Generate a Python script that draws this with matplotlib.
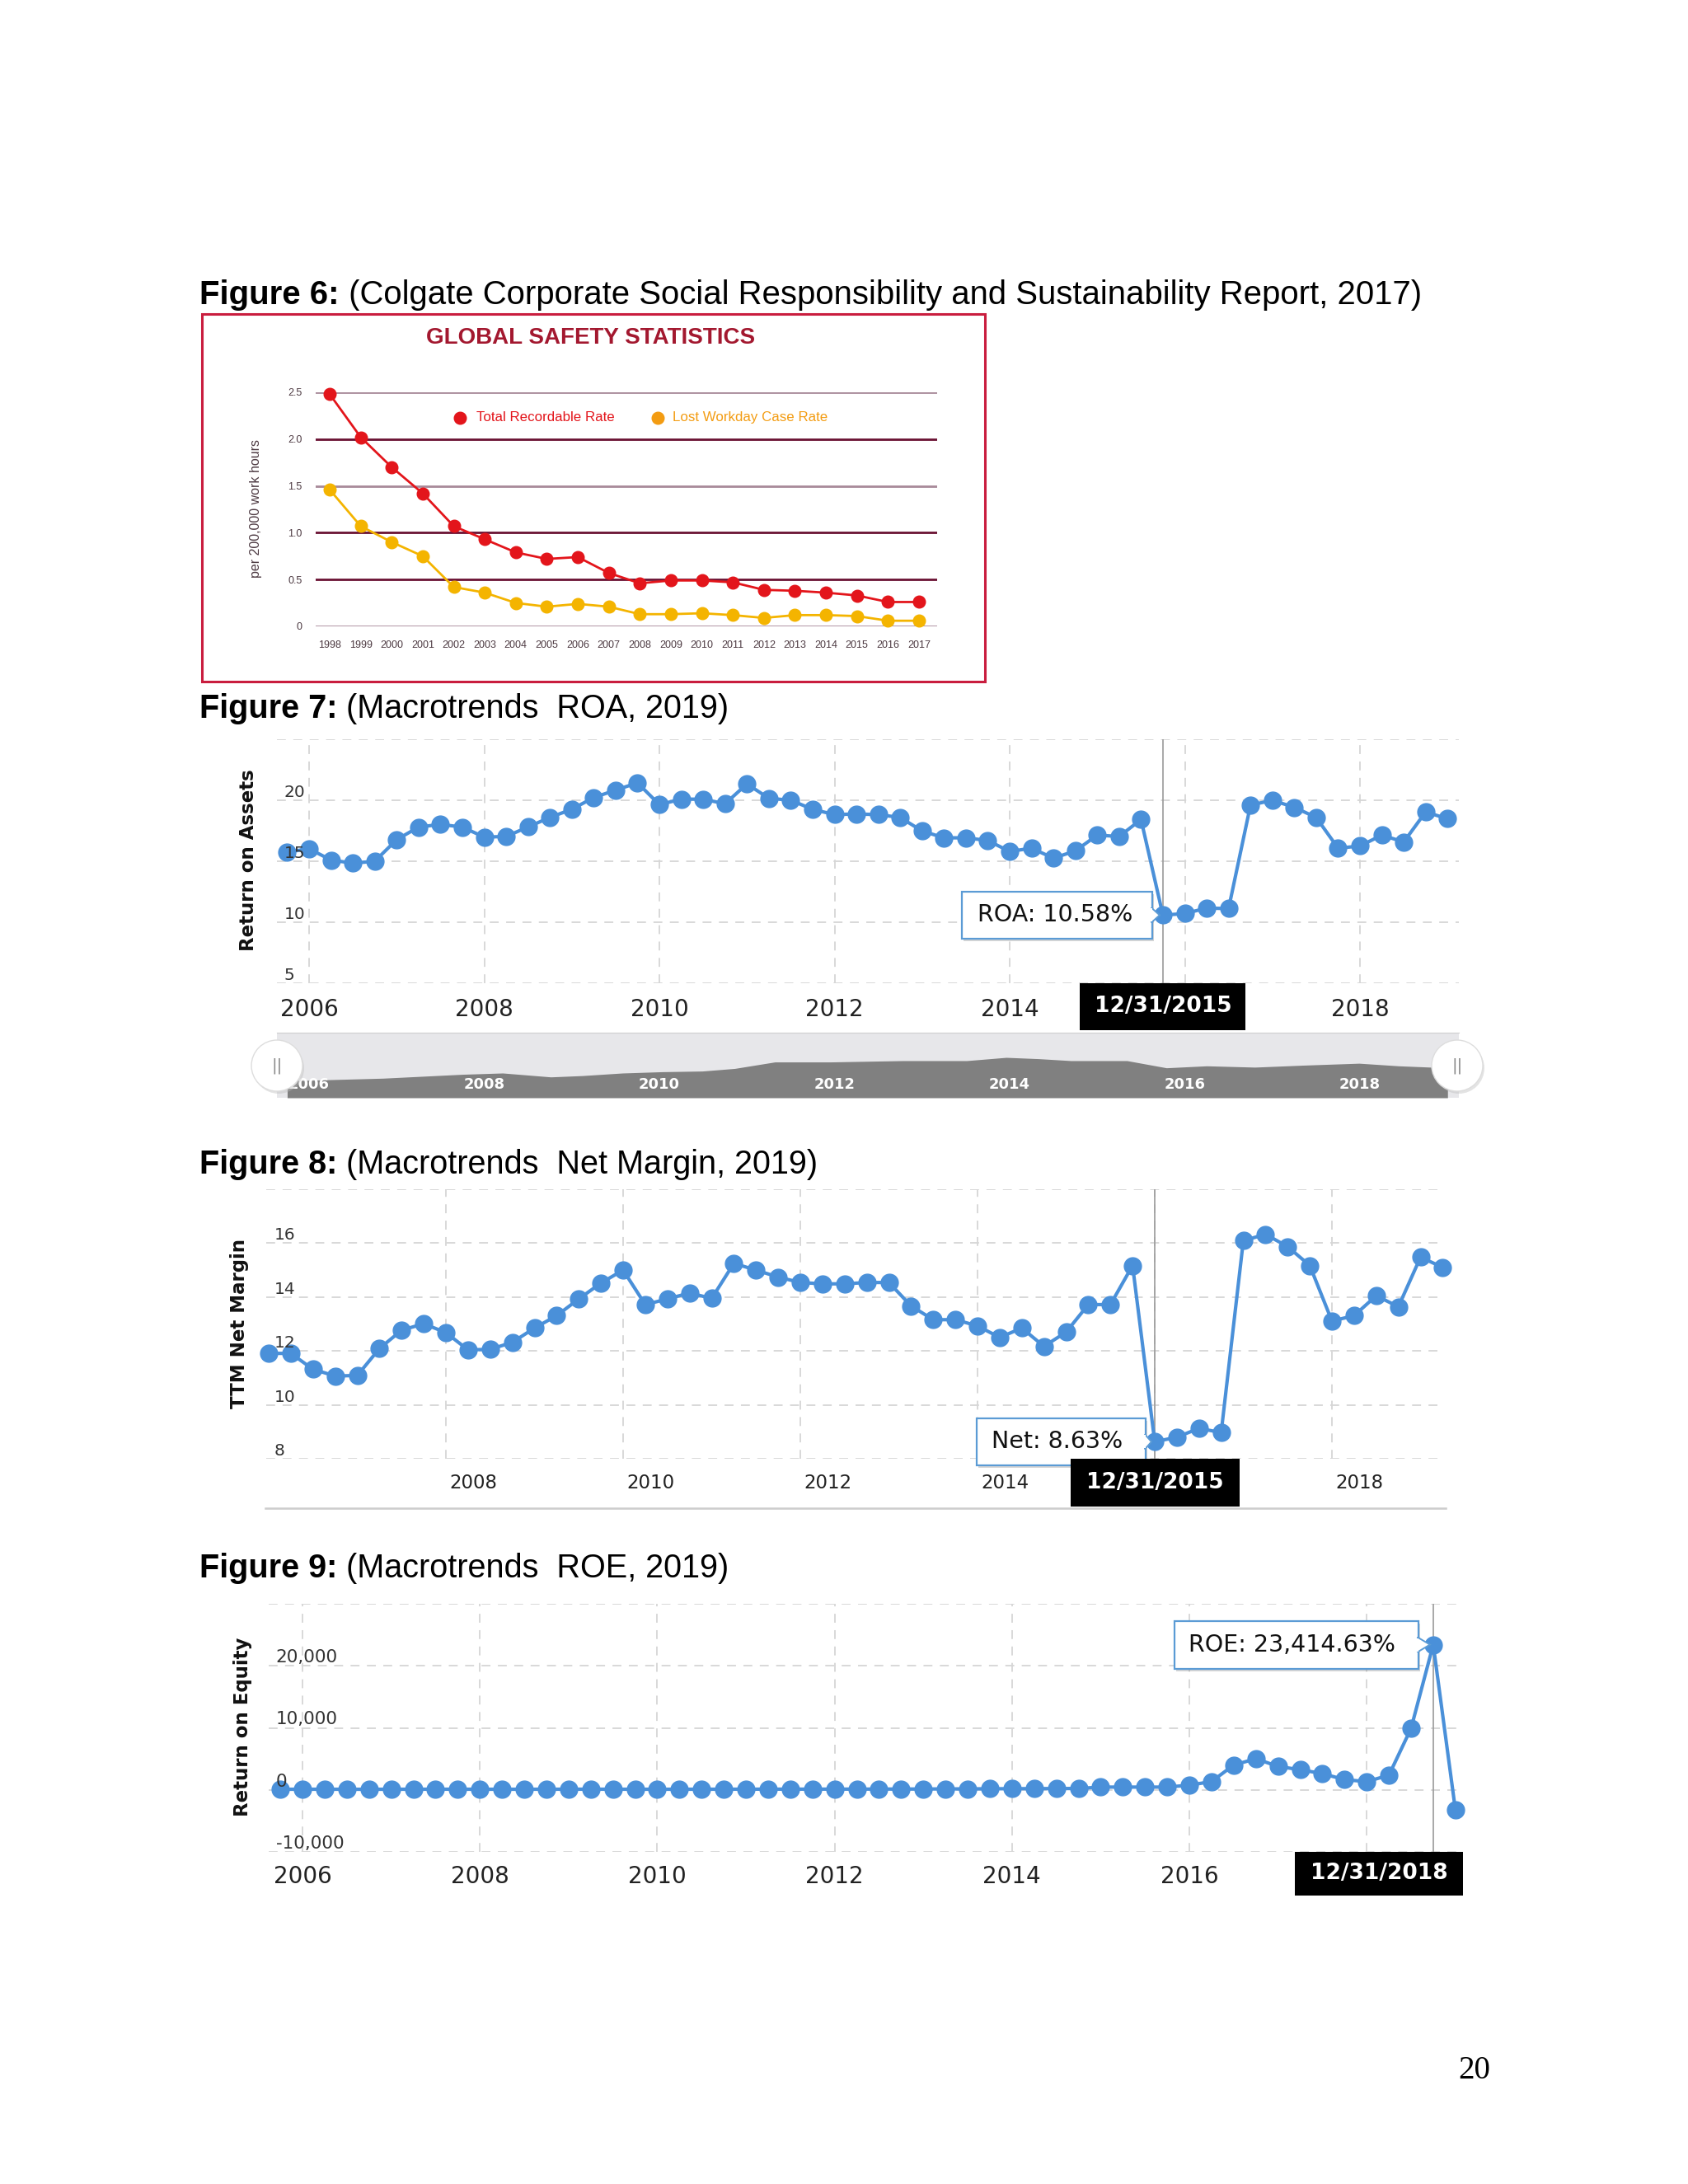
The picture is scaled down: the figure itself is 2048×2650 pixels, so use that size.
import matplotlib
matplotlib.use('Agg')
import matplotlib.pyplot as plt
import pandas as pd
from matplotlib.patches import Rectangle, Circle, Polygon
from matplotlib.transforms import IdentityTransform, offset_copy, blended_transform_factory

# ---- data ----
safety_years = list(range(1998, 2018))
total_recordable = [2.48, 2.02, 1.70, 1.42, 1.07, 0.93, 0.79, 0.72, 0.74, 0.57,
                    0.46, 0.49, 0.49, 0.47, 0.39, 0.38, 0.36, 0.33, 0.26, 0.26]
lost_workday = [1.46, 1.07, 0.90, 0.75, 0.42, 0.36, 0.25, 0.21, 0.24, 0.21,
                0.13, 0.13, 0.14, 0.12, 0.09, 0.12, 0.12, 0.11, 0.06, 0.06]

# quarterly points, 12/31/2005 .. 3/31/2019
quarters = pd.period_range('2005Q4', '2019Q1', freq='Q')
roa = [15.75, 16.02, 15.10, 14.84, 15.00, 16.77, 17.80, 18.02, 17.80, 16.98,
       17.03, 17.81, 18.59, 19.26, 20.22, 20.83, 21.43, 19.64, 20.09, 20.09,
       19.71, 21.34, 20.16, 20.00, 19.26, 18.82, 18.88, 18.82, 18.59, 17.48,
       16.92, 16.92, 16.70, 15.80, 16.07, 15.25, 15.85, 17.14, 17.03, 18.42,
       10.58, 10.71, 11.16, 11.12, 19.60, 20.00, 19.42, 18.59, 16.07, 16.25,
       17.14, 16.58, 19.04, 18.48]
net_margin = [11.91, 11.91, 11.32, 11.07, 11.09, 12.09, 12.77, 13.01, 12.68, 12.04,
              12.06, 12.32, 12.85, 13.31, 13.93, 14.52, 15.00, 13.72, 13.93, 14.15,
              13.95, 15.25, 15.00, 14.74, 14.54, 14.49, 14.49, 14.54, 14.54, 13.67,
              13.16, 13.16, 12.93, 12.50, 12.85, 12.17, 12.70, 13.72, 13.72, 15.17,
              8.63, 8.80, 9.13, 8.97, 16.09, 16.33, 15.87, 15.17, 13.11, 13.31,
              14.05, 13.64, 15.48, 15.10]
roe = [95, 98, 100, 92, 90, 96, 100, 104, 102, 98,
       95, 98, 100, 104, 105, 102, 98, 96, 98, 100,
       104, 108, 110, 112, 115, 118, 120, 125, 130, 140,
       150, 160, 175, 185, 200, 210, 222, 444, 444, 444,
       444, 755, 1333, 4000, 5022, 3778, 3244, 2622, 1644, 1333,
       2356, 9911, 23414.63, -3244]

# navigator strip under the ROA chart
nav_years = [2005.75, 2006.84, 2007.75, 2008.21, 2008.76, 2009.12, 2009.58, 2010.04,
             2010.49, 2010.86, 2011.32, 2011.96, 2012.78, 2013.51, 2013.96, 2014.33,
             2014.70, 2015.34, 2015.79, 2016.25, 2016.80, 2017.35, 2017.99, 2018.44,
             2018.81, 2019.0]
nav_vals = [26, 30, 36, 38, 32, 34, 38, 40, 41, 45, 55, 55, 57, 57, 62, 60,
            57, 57, 46, 49, 47, 50, 53, 49, 47, 46]

q_start = quarters.year + (quarters.quarter - 1) / 4.0
q_end = q_start + 0.25

W, H = 2048, 2650
fig = plt.figure(figsize=(W / 100, H / 100), dpi=100)
fig.patch.set_facecolor('white')
ID = IdentityTransform()


def axes_px(l, t, r, b):
    return fig.add_axes([l / W, 1 - b / H, (r - l) / W, (b - t) / H])


def ftext(x, y, s, **kw):
    return fig.text(x / W, 1 - y / H, s, **kw)


def caption(x, y, bold, rest, size=28.5):
    t1 = ftext(x, y, bold, family='Liberation Sans', weight='bold', fontsize=size, va='baseline')
    w = t1.get_window_extent(fig.canvas.get_renderer()).width
    ftext(x + w, y, rest, family='Liberation Sans', fontsize=size, va='baseline')


NARROW = ['Liberation Sans Narrow', 'Liberation Sans']

# ---------------- Figure 6 ----------------
caption(242, 369, 'Figure 6:', ' (Colgate Corporate Social Responsibility and Sustainability Report, 2017)', 28.9)
fig.add_artist(Rectangle((245, H - 827), 950, 446, transform=ID, fc='none', ec='#c91d3e', lw=2.2))
ftext(717, 410, 'GLOBAL SAFETY STATISTICS', family=NARROW,
      weight='bold', fontsize=20, color='#a3182f', ha='center', va='center')

ax6 = axes_px(383, 476, 1137, 760)
ax6.set_xlim(1997.548, 2017.585)
ax6.set_ylim(0, 2.5)
for v in [0, 0.5, 1.0, 1.5, 2.0, 2.5]:
    c = '#a88a99' if v in (0, 1.5, 2.5) else '#6a1233'
    ax6.axhline(v, color=c, lw=2.0, zorder=1)
ax6.plot(safety_years, total_recordable, color='#e3151b', lw=2.0, marker='o', ms=10.5, zorder=3, clip_on=False)
ax6.plot(safety_years, lost_workday, color='#f4b400', lw=2.0, marker='o', ms=10.5, zorder=3, clip_on=False)
ax6.set_yticks([0, 0.5, 1.0, 1.5, 2.0, 2.5])
ax6.set_yticklabels(['0', '0.5', '1.0', '1.5', '2.0', '2.5'])
ax6.set_xticks(safety_years)
ax6.set_xticklabels([str(y) for y in safety_years])
ax6.tick_params(length=0, labelsize=9, colors='#4d3a42', pad=12)
for lab in ax6.get_xticklabels() + ax6.get_yticklabels():
    lab.set_family(NARROW)
for s in ax6.spines.values():
    s.set_visible(False)
ax6.patch.set_alpha(0)
ax6.plot([0.232], [0.891], 'o', color='#e3151b', ms=10.5, transform=ax6.transAxes, clip_on=False)
ax6.text(0.258, 0.891, 'Total Recordable Rate', color='#e3151b', fontsize=12.2, va='center',
         family=NARROW, transform=ax6.transAxes)
ax6.plot([0.550], [0.891], 'o', color='#f39c12', ms=10.5, transform=ax6.transAxes, clip_on=False)
ax6.text(0.574, 0.891, 'Lost Workday Case Rate', color='#f39c12', fontsize=12.2, va='center',
         family=NARROW, transform=ax6.transAxes)
ftext(311, 617, 'per 200,000 work hours', rotation=90, fontsize=11.5, color='#4d3a42',
      ha='center', va='center', family='Liberation Sans')

# ---------------- macrotrends style charts ----------------
BLUE = '#4a90d9'
GRID = '#d6d6d6'
DASH = (0, (6, 5))


def macro_axes(l, t, r, b, year0_px, px_per_year, ylim):
    ax = axes_px(l, t, r, b)
    ax.set_xlim(2006 + (l - year0_px) / px_per_year, 2006 + (r - year0_px) / px_per_year)
    ax.set_ylim(*ylim)
    for s in ax.spines.values():
        s.set_visible(False)
    ax.set_xticks([])
    ax.set_yticks([])
    ax.patch.set_alpha(0)
    return ax


def grid_and_labels(ax, hvals, hlabels, vyears, xlabels, label_shift, label_dy, xfs, yfs, lab_x):
    for v in hvals:
        ax.axhline(v, color=GRID, lw=1.3, ls=DASH, zorder=0)
    for yr in vyears:
        ax.axvline(yr, color=GRID, lw=1.3, ls=DASH, zorder=0)
    bt = blended_transform_factory(ax.transAxes, ax.transData)
    for v, lab in zip(hvals, hlabels):
        if lab:
            ax.text(lab_x, v, lab, transform=bt, ha='left', va='bottom', fontsize=yfs,
                    color='#333333', zorder=5)
    tr = offset_copy(ax.get_xaxis_transform(), fig=fig, y=-label_dy, units='dots')
    for yr in xlabels:
        ax.text(yr + label_shift, 0, str(yr), transform=tr, ha='center', va='center',
                fontsize=xfs, color='#222222', clip_on=False)


def date_box(ax, xc, text, w, h, right_px, fs):
    dx = ax.transData.transform((xc, ax.get_ylim()[0]))[0]
    top = ax.transAxes.transform((0, 0))[1]
    cx = min(dx, right_px - w / 2)
    fig.add_artist(Rectangle((cx - w / 2, top - h), w, h, transform=ID, fc='black', ec='none', zorder=10))
    fig.text(cx, top - h / 2, text, transform=ID, color='white', fontsize=fs, weight='bold',
             ha='center', va='center', zorder=11)


def tooltip(ax, xp, yp, text, gap, w, h, pad, fs):
    dx, dy = ax.transData.transform((xp, yp))
    right = dx - gap
    left = right - w
    fig.add_artist(Rectangle((left + 2, dy - h / 2 - 3), w, h, transform=ID, fc='#888888',
                             ec='none', alpha=0.35, zorder=8))
    fig.add_artist(Rectangle((left, dy - h / 2), w, h, transform=ID, fc='white',
                             ec='#5b9bd5', lw=1.6, zorder=9))
    fig.add_artist(Polygon([(right - 1, dy + 9), (right + gap - 4, dy), (right - 1, dy - 9)],
                           closed=True, transform=ID, fc='white', ec='#5b9bd5', lw=1.4, zorder=9))
    fig.add_artist(Rectangle((right - 3, dy - 8), 3, 16, transform=ID, fc='white', ec='none', zorder=9.5))
    fig.text(left + pad, dy, text, transform=ID, fontsize=fs, color='#111111',
             ha='left', va='center', zorder=10)


# ---- Figure 7: ROA ----
caption(242, 871, 'Figure 7:', ' (Macrotrends  ROA, 2019)')
ax7 = macro_axes(336, 897, 1770, 1193, 375, 106.25, (5, 25))
# the 2016 label sits under the date box
grid_and_labels(ax7, [5, 10, 15, 20, 25], ['5', '10', '15', '20', ''],
                list(range(2006, 2019, 2)), [2006, 2008, 2010, 2012, 2014, 2018], 0, 32, 20, 14.5, 0.006)
ax7.axvline(q_start[40], color='#9a9a9a', lw=1.2, zorder=2)
ax7.plot(q_start, roa, color=BLUE, lw=3, marker='o', ms=15, zorder=3, clip_on=False)
ftext(301, 1044, 'Return on Assets', rotation=90, weight='bold', fontsize=16.5,
      ha='center', va='center', color='#111111')
date_box(ax7, q_start[40], '12/31/2015', 201, 57, 1770, 19)
tooltip(ax7, q_start[40], roa[40], 'ROA: 10.58%', 13, 231, 57, 19, 20.5)

axn = axes_px(336, 1253, 1770, 1332)
axn.set_xlim(ax7.get_xlim())
axn.set_ylim(0, 100)
axn.set_facecolor('#e7e7ea')
axn.fill_between(nav_years, nav_vals, 0, color='#808080', lw=0)
for s in ['left', 'right', 'bottom']:
    axn.spines[s].set_visible(False)
axn.spines['top'].set_color('#cfcfcf')
axn.set_xticks([])
axn.set_yticks([])
for yr in range(2006, 2019, 2):
    axn.text(yr, 20, str(yr), color='white', fontsize=13, weight='bold', ha='center', va='center')
for hx in [336, 1768]:
    fig.add_artist(Circle((hx + 2, H - 1296), 31, transform=ID, fc='#bbbbbb', ec='none', alpha=0.4, zorder=6))
    fig.add_artist(Circle((hx, H - 1293), 31, transform=ID, fc='white', ec='#dddddd', lw=1, zorder=7))
    fig.text(hx, H - 1293, '||', transform=ID, color='#8a8a8a', fontsize=14,
             ha='center', va='center', zorder=8)

# ---- Figure 8: Net margin ----
caption(242, 1424, 'Figure 8:', ' (Macrotrends  Net Margin, 2019)')
ax8 = macro_axes(323, 1443, 1745, 1770, 326, 107.5, (8, 18))
grid_and_labels(ax8, [8, 10, 12, 14, 16, 18], ['8', '10', '12', '14', '16', ''],
                list(range(2008, 2019, 2)), [2008, 2010, 2012, 2014, 2018], 0.31, 30, 16.5, 14.5, 0.007)
ax8.axvline(q_end[40], color='#9a9a9a', lw=1.2, zorder=2)
ax8.plot(q_end, net_margin, color=BLUE, lw=3, marker='o', ms=15, zorder=3, clip_on=False)
ax8.plot([-0.001, 1.006], [-0.183, -0.183], color='#cccccc', lw=1.8, transform=ax8.transAxes, clip_on=False)
ftext(291, 1606, 'TTM Net Margin', rotation=90, weight='bold', fontsize=16.5,
      ha='center', va='center', color='#111111')
date_box(ax8, q_end[40], '12/31/2015', 205, 58, 1745, 19)
tooltip(ax8, q_end[40], net_margin[40], 'Net: 8.63%', 11, 205, 57, 18, 20.5)

# ---- Figure 9: ROE ----
caption(242, 1914, 'Figure 9:', ' (Macrotrends  ROE, 2019)')
ax9 = macro_axes(326, 1946, 1775, 2247, 367, 107.6, (-10000, 30000))
grid_and_labels(ax9, [-10000, 0, 10000, 20000, 30000], ['-10,000', '0', '10,000', '20,000', ''],
                list(range(2006, 2019, 2)), [2006, 2008, 2010, 2012, 2014, 2016], 0, 30, 20, 15.5, 0.006)
ax9.axvline(q_start[52], color='#9a9a9a', lw=1.2, zorder=2)
ax9.plot(q_start, roe, color=BLUE, lw=3, marker='o', ms=15, zorder=3, clip_on=False)
ftext(294, 2095, 'Return on Equity', rotation=90, weight='bold', fontsize=16.5,
      ha='center', va='center', color='#111111')
date_box(ax9, q_start[52], '12/31/2018', 204, 53, 1775, 19)
tooltip(ax9, q_start[52], roe[52], 'ROE: 23,414.63%', 18, 296, 58, 17, 20.5)

# page number
ftext(1789, 2522, '20', family='Liberation Serif', fontsize=28, ha='center', va='baseline')

fig.savefig('out.png', dpi=100, facecolor='white')
